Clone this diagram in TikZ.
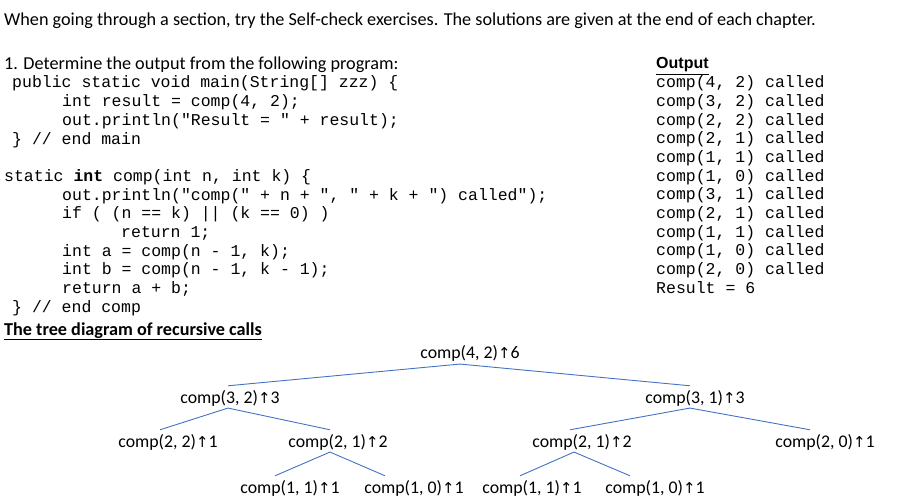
\documentclass[tikz,border=0pt]{standalone}
\usepackage{fontspec}
\setmainfont{Carlito}
\setmonofont{Liberation Mono}
\newfontfamily\arialf{Liberation Sans}
\newfontfamily\dejaf{DejaVu Sans}
\usetikzlibrary{calc}
\newcommand{\up}{{\dejaf\fontsize{15}{15}\selectfont↑}}
\begin{document}
\begin{tikzpicture}[x=1pt,y=-1pt,
  txt/.style={anchor=base west,inner sep=0pt,font=\fontsize{18.2}{20}\selectfont},
  cd/.style={anchor=base west,inner sep=0pt,font=\ttfamily\fontsize{16.5}{18}\selectfont},
  tn/.style={anchor=base,inner sep=1pt,font=\fontsize{17.8}{20}\selectfont},
  ed/.style={draw={rgb,255:red,68;green,114;blue,196},line width=0.9pt}]
\useasboundingbox (0,0) rectangle (907,502);
\node[txt] (hd) at (4,26) {When going through a section, try the Self-check exercises. The solutions are given at the end of each chapter.};
\node[txt] (q1) at (4,70) {1. Determine the output from the following program:};
\node[cd] (c1) at (12,88) {public static void main(String[] zzz) \{};
\node[cd] (c2) at (62,107) {int result = comp(4, 2);};
\node[cd] (c3) at (62,126) {out.println("Result = " + result);};
\node[cd] (c4) at (12,145) {\} // end main};
\node[cd] (c5) at (4,182) {static \textbf{int} comp(int n, int k) \{};
\node[cd] (c6) at (62,201) {out.println("comp(" + n + ", " + k + ") called");};
\node[cd] (c7) at (62,219) {if ( (n == k) || (k == 0) )};
\node[cd] (c8) at (121,238) {return 1;};
\node[cd] (c9) at (62,257) {int a = comp(n - 1, k);};
\node[cd] (c10) at (62,275) {int b = comp(n - 1, k - 1);};
\node[cd] (c11) at (62,294) {return a + b;};
\node[cd] (c12) at (12,313) {\} // end comp};
\node[txt] (tt) at (4,335) {\textbf{\underline{The tree diagram of recursive calls}}};
\node[txt,font=\arialf\bfseries\fontsize{16}{18}\selectfont] (ot) at (656,69) {\underline{Output}};
\foreach \t [count=\i] in {{comp(4, 2) called},{comp(3, 2) called},{comp(2, 2) called},{comp(2, 1) called},{comp(1, 1) called},{comp(1, 0) called},{comp(3, 1) called},{comp(2, 1) called},{comp(1, 1) called},{comp(1, 0) called},{comp(2, 0) called},{Result = 6}}
  \node[cd] (o\i) at (656,{69+18.7*\i}) {\t};
% tree
\node[tn] (r) at (470,358) {comp(4, 2)\up6};
\node[tn] (a) at (230,403) {comp(3, 2)\up3};
\node[tn] (b) at (695,403) {comp(3, 1)\up3};
\node[tn] (aa) at (168,447) {comp(2, 2)\up1};
\node[tn] (ab) at (338,447) {comp(2, 1)\up2};
\node[tn] (ba) at (582,447) {comp(2, 1)\up2};
\node[tn] (bb) at (825,447) {comp(2, 0)\up1};
\node[tn] (aba) at (290,493) {comp(1, 1)\up1};
\node[tn] (abb) at (414,493) {comp(1, 0)\up1};
\node[tn] (baa) at (532,493) {comp(1, 1)\up1};
\node[tn] (bab) at (655,493) {comp(1, 0)\up1};
\draw[ed] ($(r.south)+(-10,2)$) -- ($(a.north)+(-2,-3)$);
\draw[ed] ($(r.south)+(-10,2)$) -- ($(b.north)+(-5,-3)$);
\draw[ed] ($(a.south)+(-2,1)$) -- ($(aa.north)+(-8,-3)$);
\draw[ed] ($(a.south)+(-2,1)$) -- ($(ab.north)+(-8,-3)$);
\draw[ed] ($(b.south)+(-5,1)$) -- ($(ba.north)+(-12,-3)$);
\draw[ed] ($(b.south)+(-5,1)$) -- ($(bb.north)+(-15,-3)$);
\draw[ed] ($(ab.south)+(-8,1)$) -- ($(aba.north)+(-15,-3)$);
\draw[ed] ($(ab.south)+(-8,1)$) -- ($(abb.north)+(-29,-3)$);
\draw[ed] ($(ba.south)+(-8,1)$) -- ($(baa.north)+(-12,-3)$);
\draw[ed] ($(ba.south)+(-8,1)$) -- ($(bab.north)+(-25,-3)$);
\end{tikzpicture}
\end{document}
